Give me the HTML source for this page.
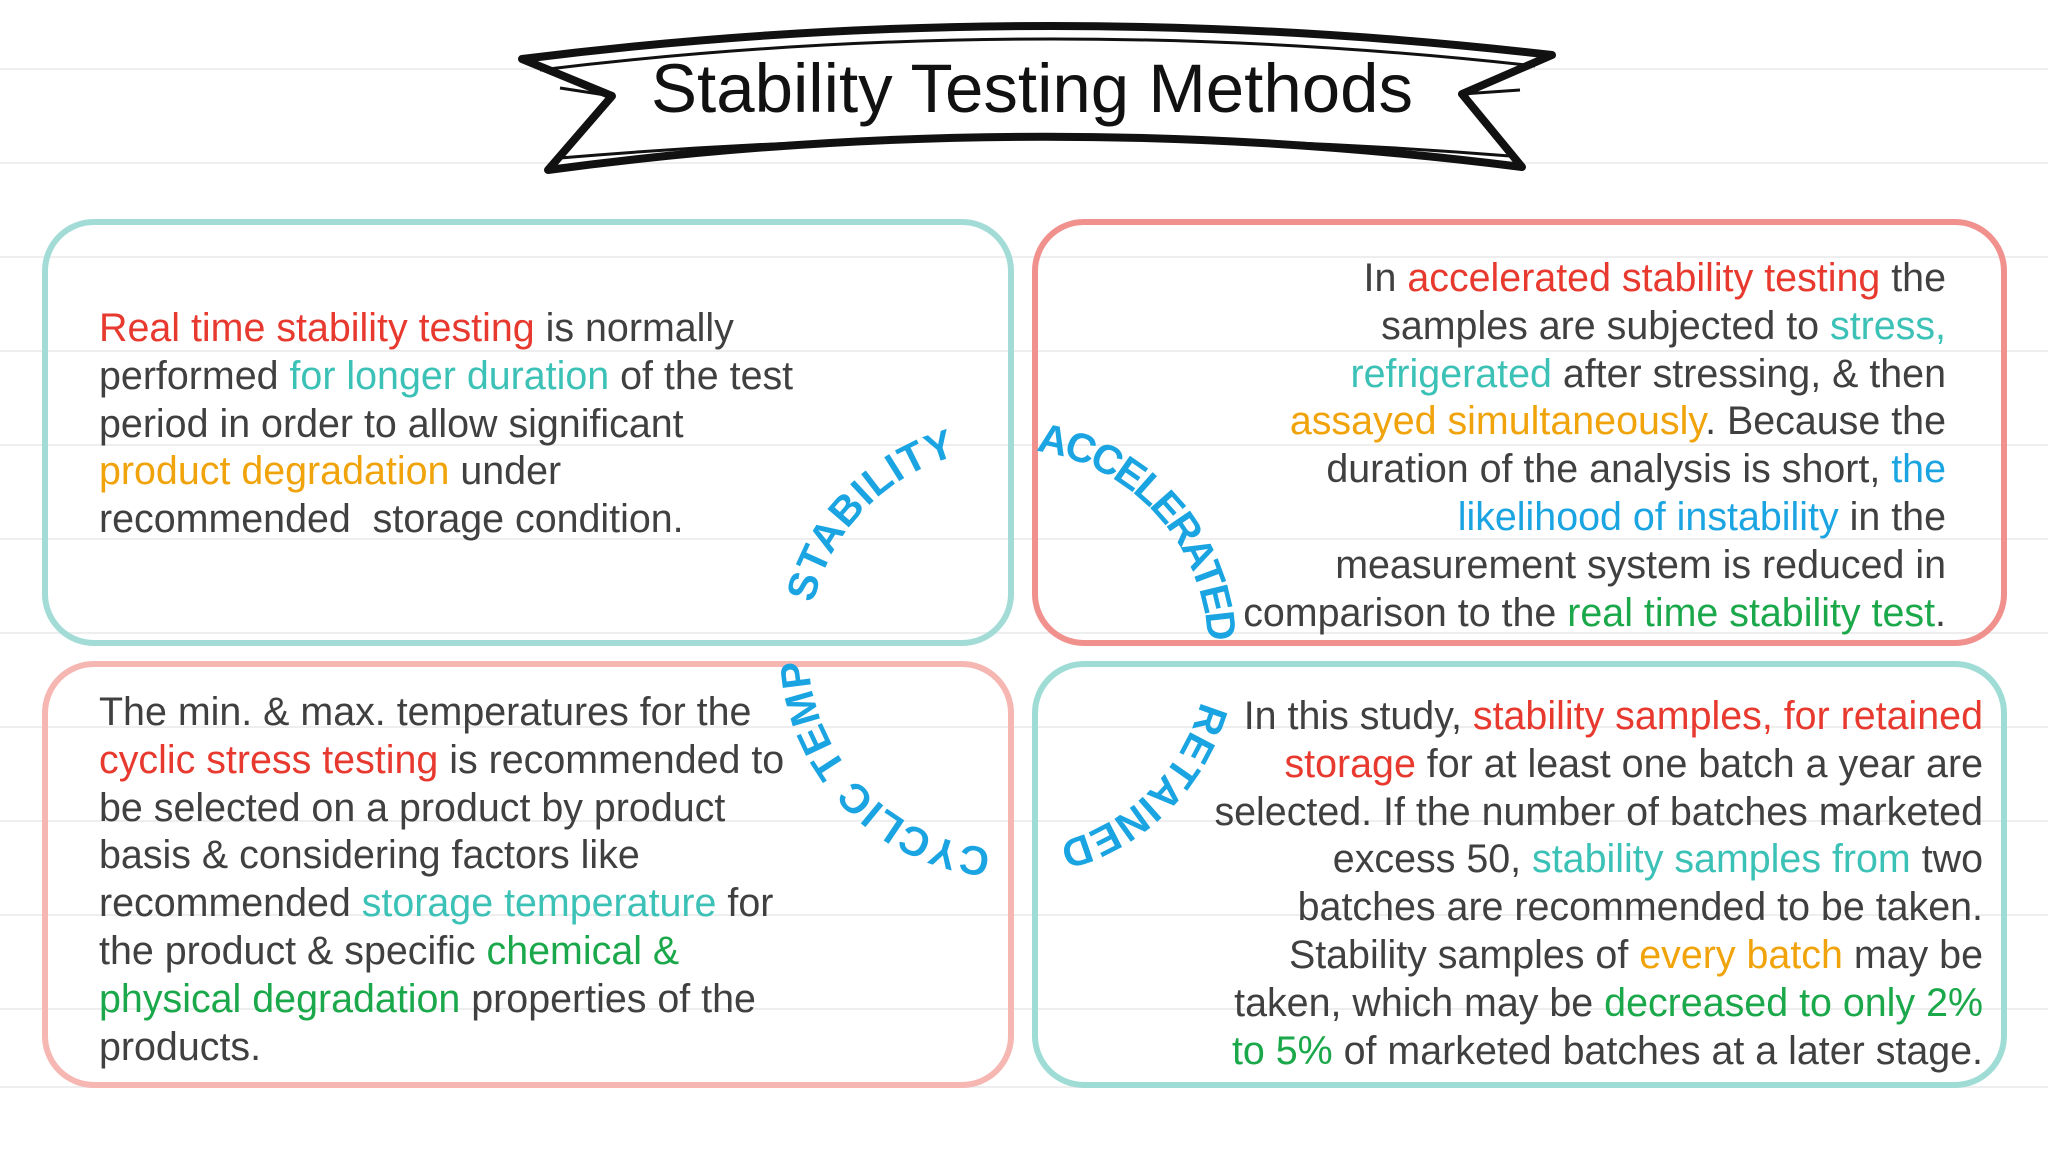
<!DOCTYPE html>
<html><head><meta charset="utf-8">
<style>
body{margin:0;width:2048px;height:1152px;overflow:hidden;background:#fff;font-family:"Liberation Sans",Arial,sans-serif;position:relative}
.ln{position:absolute;left:0;width:2048px;height:2px;background:#eeeeee}
.box{position:absolute;box-sizing:border-box;border:6px solid;border-radius:52px;background:transparent}
.txt{position:absolute;font-size:39.4px;line-height:47.8px;color:#404040;white-space:nowrap}
.r{color:#e8392f}.t{color:#3cc1b7}.o{color:#f0a30a}.b{color:#1ba4e2}.g{color:#1aa84a}
</style></head><body>
<div>
<div class="ln" style="top:68px"></div><div class="ln" style="top:162px"></div><div class="ln" style="top:256px"></div><div class="ln" style="top:350px"></div><div class="ln" style="top:444px"></div><div class="ln" style="top:538px"></div><div class="ln" style="top:632px"></div><div class="ln" style="top:726px"></div><div class="ln" style="top:820px"></div><div class="ln" style="top:914px"></div><div class="ln" style="top:1008px"></div><div class="ln" style="top:1086px"></div>
</div>

<svg style="position:absolute;left:0;top:0" width="2048" height="200">
<path d="M522,59 Q1032,-5 1552,55 L1462,94 L1522,167 Q1032,105 548,170 L612,96 Z" fill="#fff" stroke="#111" stroke-width="8" stroke-linejoin="round"/>
<path d="M540,70 Q1032,10 1535,66 M560,158 Q1032,118 1510,156 M612,96 L560,88 M1462,94 L1520,90" fill="none" stroke="#111" stroke-width="3"/>
<text x="1032" y="112" text-anchor="middle" font-family="Liberation Sans, Arial, sans-serif" font-size="69" fill="#111">Stability Testing Methods</text>
</svg>

<div class="box" style="left:42px;top:219px;width:972px;height:427px;border-color:#a3dcd6"></div>
<div class="box" style="left:1032px;top:219px;width:975px;height:427px;border-color:#f0918e"></div>
<div class="box" style="left:42px;top:661px;width:972px;height:427px;border-color:#f6b6b2"></div>
<div class="box" style="left:1032px;top:661px;width:975px;height:427px;border-color:#9edcd5"></div>

<div class="txt" style="left:99px;top:305px"><span class="r">Real time stability testing</span> is normally<br>performed <span class="t">for longer duration</span> of the test<br>period in order to allow significant<br><span class="o">product degradation</span> under<br>recommended&nbsp; storage condition.</div>

<div class="txt" style="right:102px;top:255px;text-align:right">In <span class="r">accelerated stability testing</span> the<br>samples are subjected to <span class="t">stress,</span><br><span class="t">refrigerated</span> after stressing, &amp; then<br><span class="o">assayed simultaneously</span>. Because the<br>duration of the analysis is short, <span class="b">the</span><br><span class="b">likelihood of instability</span> in the<br>measurement system is reduced in<br>comparison to the <span class="g">real time stability test</span>.</div>

<div class="txt" style="left:99px;top:689px">The min. &amp; max. temperatures for the<br><span class="r">cyclic stress testing</span> is recommended to<br>be selected on a product by product<br>basis &amp; considering factors like<br>recommended <span class="t">storage temperature</span> for<br>the product &amp; specific <span class="g">chemical &amp;</span><br><span class="g">physical degradation</span> properties of the<br>products.</div>

<div class="txt" style="right:65px;top:693px;text-align:right">In this study, <span class="r">stability samples, for retained</span><br><span class="r">storage</span> for at least one batch a year are<br>selected. If the number of batches marketed<br>excess 50, <span class="t">stability samples from</span> two<br>batches are recommended to be taken.<br>Stability samples of <span class="o">every batch</span> may be<br>taken, which may be <span class="g">decreased to only 2%</span><br><span class="g">to 5%</span> of marketed batches at a later stage.</div>

<svg style="position:absolute;left:0;top:0" width="2048" height="1152">
<defs><path id="circ" d="M1008,849 A200,200 0 1 1 1008,449 A200,200 0 1 1 1008,849"/></defs>
<g font-family="Liberation Sans, Arial, sans-serif" font-weight="bold" font-size="41" fill="#1ba4e2">
<text><textPath href="#circ" startOffset="360" textLength="216" lengthAdjust="spacing">STABILITY</textPath></text>
<text><textPath href="#circ" startOffset="656" textLength="279" lengthAdjust="spacing">ACCELERATED</textPath></text>
<text><textPath href="#circ" startOffset="995" textLength="210" lengthAdjust="spacing">RETAINED</textPath></text>
<text><textPath href="#circ" startOffset="17" textLength="286" lengthAdjust="spacing">CYCLIC TEMP</textPath></text>
</g>
</svg>
</body></html>
